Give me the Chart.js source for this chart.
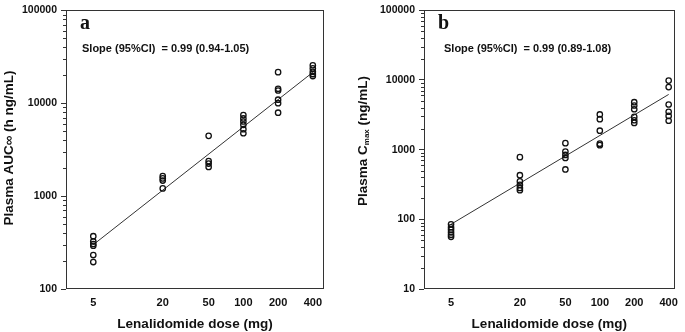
<!DOCTYPE html>
<html>
<head>
<meta charset="utf-8">
<script src="https://cdn.jsdelivr.net/npm/chart.js@4/dist/chart.umd.min.js"></script>
<style>
  html, body { margin: 0; padding: 0; background: #fff; }
  #wrap { position: relative; width: 685px; height: 332px; overflow: hidden; }
  canvas { position: absolute; top: 0; }
  #ca { left: 0; }
  #cb { left: 345px; }
</style>
</head>
<body>
<div id="wrap">
  <canvas id="ca" width="345" height="332"></canvas>
  <canvas id="cb" width="340" height="332"></canvas>
</div>
<script>
// ---- data ----
const doses = [5, 20, 50, 100, 200, 400];
const xTickLabels = [5, 20, 50, 100, 200, 400];
const aucValues = [
  [370, 325, 305, 292, 232, 195],
  [1640, 1550, 1470, 1210],
  [4450, 2380, 2240, 2060],
  [7450, 6850, 6350, 5850, 5250, 4750],
  [21600, 14300, 13700, 10900, 10000, 7900],
  [25600, 23700, 21800, 20600, 19600]
];
const cmaxValues = [
  [85, 77, 71, 65, 60, 56],
  [780, 430, 350, 312, 282, 262],
  [1240, 940, 840, 760, 520],
  [3200, 2740, 1870, 1220, 1160],
  [4800, 4300, 3800, 2950, 2640, 2420],
  [9800, 7900, 4450, 3500, 3050, 2600]
];
const fitDoses = [5, 400];
const aucFit = [300, 21500];
const cmaxFit = [85, 6200];
const yTicksA = [100, 1000, 10000, 100000];
const yTicksB = [10, 100, 1000, 10000, 100000];

const SANS = '"Liberation Sans", Arial, Helvetica, sans-serif';
const SERIF = '"Liberation Serif", "Times New Roman", serif';
const AXIS = '#333';

function points(values) {
  const out = [];
  values.forEach((list, i) => list.forEach(v => out.push({ x: doses[i], y: v })));
  return out;
}
function fitLine(fit) {
  return fitDoses.map((d, i) => ({ x: d, y: fit[i] }));
}

function decorPlugin(cfg) {
  return {
    id: 'decor' + cfg.letter,
    afterDraw(chart) {
      const ctx = chart.ctx;
      const a = chart.chartArea;
      const ys = chart.scales.y;
      ctx.save();
      // frame
      ctx.strokeStyle = AXIS;
      ctx.lineWidth = 1;
      ctx.strokeRect(Math.round(a.left) + 0.5, Math.round(a.top) + 0.5,
        Math.round(a.right - a.left) - 1, Math.round(a.bottom - a.top) - 1);
      // minor y ticks
      ctx.beginPath();
      for (let d = ys.min; d < ys.max; d *= 10) {
        for (let k = 2; k <= 9; k++) {
          const y = Math.round(ys.getPixelForValue(k * d)) + 0.5;
          ctx.moveTo(a.left - 3, y);
          ctx.lineTo(a.left, y);
        }
      }
      ctx.stroke();
      // y axis title
      ctx.fillStyle = '#111';
      ctx.translate(cfg.titleX, cfg.titleY);
      ctx.rotate(-Math.PI / 2);
      ctx.textBaseline = 'middle';
      const big = 'bold 13.5px ' + SANS;
      const small = 'bold 8px ' + SANS;
      let total = 0;
      cfg.titleParts.forEach(p => { ctx.font = p.sub ? small : big; total += ctx.measureText(p.t).width; });
      let x = -total / 2;
      ctx.textAlign = 'left';
      cfg.titleParts.forEach(p => {
        ctx.font = p.sub ? small : big;
        ctx.fillText(p.t, x, p.sub ? 4 : 0);
        x += ctx.measureText(p.t).width;
      });
      ctx.restore();
      ctx.save();
      // panel letter
      ctx.fillStyle = '#111';
      ctx.textBaseline = 'alphabetic';
      ctx.font = 'bold 20px ' + SERIF;
      ctx.fillText(cfg.letter, cfg.letterX, 29);
      // slope text
      ctx.font = 'bold 11px ' + SANS;
      ctx.fillText(cfg.note, cfg.noteX, 52);
      ctx.restore();
    }
  };
}

function makeChart(id, values, fit, yMin, yMax, yTicks, yWidth, padRight, xMax, cfg) {
  return new Chart(document.getElementById(id), {
    type: 'scatter',
    data: {
      datasets: [
        {
          data: points(values),
          showLine: false,
          pointStyle: 'circle',
          pointRadius: 2.7,
          pointBorderWidth: 1.3,
          pointBorderColor: '#111',
          pointBackgroundColor: 'rgba(0,0,0,0)',
          pointHoverRadius: 2.7
        },
        {
          data: fitLine(fit),
          showLine: true,
          borderColor: '#333',
          borderWidth: 1,
          pointRadius: 0,
          pointHoverRadius: 0
        }
      ]
    },
    options: {
      responsive: false,
      animation: false,
      events: [],
      layout: { padding: { top: 6, right: padRight, left: 0, bottom: 0 } },
      plugins: { legend: { display: false }, tooltip: { enabled: false } },
      scales: {
        x: {
          type: 'logarithmic',
          min: 2.9,
          max: xMax,
          afterBuildTicks: s => { s.ticks = xTickLabels.map(v => ({ value: v })); },
          afterFit: s => { s.height = 43; },
          border: { display: false },
          grid: { drawOnChartArea: false, drawTicks: false, tickLength: 0, color: AXIS, tickColor: AXIS },
          ticks: {
            autoSkip: false, maxRotation: 0, padding: 7,
            color: '#111', font: { family: SANS, size: 11, weight: 'bold' },
            callback: v => String(v)
          },
          title: {
            display: true, text: 'Lenalidomide dose (mg)', color: '#111',
            padding: { top: 0, bottom: 0 },
            font: { family: SANS, size: 13.5, weight: 'bold' }
          }
        },
        y: {
          type: 'logarithmic',
          min: yMin,
          max: yMax,
          afterBuildTicks: s => { s.ticks = yTicks.map(v => ({ value: v })); },
          afterFit: s => { s.width = yWidth; },
          border: { display: false },
          grid: { drawOnChartArea: false, drawTicks: true, tickLength: 5, color: AXIS, tickColor: AXIS },
          ticks: {
            autoSkip: false, padding: 4,
            color: '#111', font: { family: SANS, size: 10.5, weight: 'bold' },
            callback: v => String(v)
          }
        }
      }
    },
    plugins: [decorPlugin(cfg)]
  });
}

makeChart('ca', aucValues, aucFit, 100, 100000, yTicksA, 66, 21, 500, {
  letter: 'a', letterX: 80, note: 'Slope (95%CI)  = 0.99 (0.94-1.05)', noteX: 82,
  titleX: 9, titleY: 148,
  titleParts: [{ t: 'Plasma AUC\u221E (h ng/mL)' }]
});
makeChart('cb', cmaxValues, cmaxFit, 10, 100000, yTicksB, 79, 7, 450, {
  letter: 'b', letterX: 93, note: 'Slope (95%CI)  = 0.99 (0.89-1.08)', noteX: 99,
  titleX: 18, titleY: 141,
  titleParts: [{ t: 'Plasma C' }, { t: 'max', sub: true }, { t: ' (ng/mL)' }]
});
</script>
</body>
</html>
